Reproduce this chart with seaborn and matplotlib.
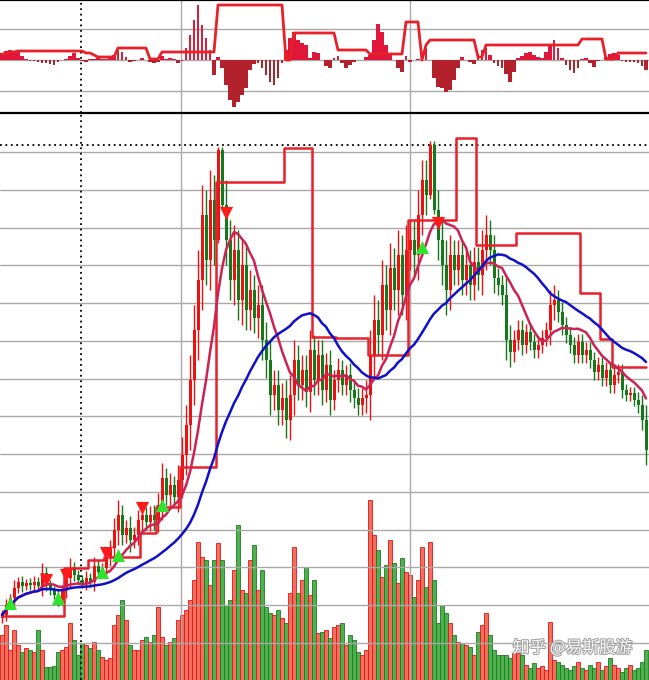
import numpy as np
import pandas as pd
import matplotlib
matplotlib.use('Agg')
import matplotlib.pyplot as plt
import matplotlib.patheffects as pe
import seaborn as sns

# ===== データ（画像から読み取った概算値） =====
first_open = 6.2
closes = [6.5, 7.5, 8.2, 9.2, 9.8, 9.4, 9.7, 9.5, 9.8, 9.4,
          10.7, 9.5, 9.0, 8.5, 8.0, 9.0, 10.2, 11.2, 10.5, 10.0,
          9.7, 10.2, 9.8, 11.4, 10.8, 11.2, 12.2, 13.2, 15.0, 16.5,
          14.5, 15.2, 14.0, 14.5, 16.0, 16.5, 15.8, 16.5, 16.0, 17.5,
          20.2, 18.5, 19.5, 18.3, 20.0, 22.5, 25.5, 30.0, 35.0, 40.0,
          46.5, 42.0, 48.0, 44.0, 53.0, 47.5, 44.0, 40.0, 43.0, 38.0,
          41.5, 37.0, 39.0, 36.2, 37.5, 34.0, 32.0, 28.5, 29.5, 27.0,
          28.2, 26.0, 28.5, 32.0, 29.5, 31.0, 28.8, 33.0, 30.0, 32.5,
          29.0, 31.5, 28.0, 30.0, 31.0, 29.5, 30.5, 29.0, 28.2, 27.5,
          28.2, 28.5, 32.5, 36.0, 34.5, 39.5, 37.0, 41.2, 39.0, 42.5,
          38.5, 43.0, 44.0, 42.5, 46.5, 50.0, 48.5, 53.5, 47.0, 44.0,
          41.5, 39.0, 42.5, 41.0, 42.5, 40.0, 41.5, 39.5, 41.8, 40.5,
          43.0, 44.5, 43.0, 40.2, 39.5, 38.5, 34.0, 32.8, 34.0, 35.0,
          33.5, 34.8, 33.8, 33.0, 33.5, 34.2, 35.0, 37.5, 38.0, 36.8,
          35.5, 34.5, 33.5, 32.5, 33.8, 32.5, 33.0, 32.0, 30.8, 31.5,
          30.2, 31.0, 29.5, 30.5, 30.8, 29.0, 28.5, 28.7, 28.0, 27.5,
          26.0, 23.0]

# 実体からのヒゲの長さ
wicks = [0.5, 0.6, 0.4, 0.8, 0.5, 0.6, 0.4, 0.5, 0.6, 0.5,
         1.0, 0.6, 0.5, 0.4, 0.6, 0.5, 0.8, 1.0, 0.6, 0.5,
         0.5, 0.7, 0.5, 0.9, 0.6, 0.5, 0.7, 0.8, 1.2, 1.5,
         1.0, 0.8, 1.2, 0.8, 1.0, 1.2, 0.8, 0.9, 1.0, 1.2,
         1.5, 1.0, 1.2, 0.9, 1.5, 1.8, 2.0, 2.5, 2.5, 3.0,
         3.0, 2.5, 3.0, 2.5, 0.3, 0.3, 2.5, 2.0, 2.5, 2.0,
         2.5, 2.0, 2.0, 1.5, 2.0, 2.0, 1.8, 2.0, 1.5, 1.5,
         1.5, 1.8, 2.0, 2.0, 1.5, 1.5, 1.5, 2.0, 1.5, 1.5,
         1.5, 1.2, 1.5, 1.0, 1.2, 1.0, 1.0, 1.2, 1.0, 1.0,
         1.0, 1.5, 2.5, 2.5, 2.0, 2.5, 2.0, 2.5, 2.0, 2.5,
         2.0, 2.5, 2.0, 2.0, 2.5, 2.0, 2.0, 0.4, 0.4, 2.0,
         2.0, 2.5, 2.0, 1.5, 1.5, 1.5, 1.5, 1.5, 1.5, 1.5,
         2.0, 2.0, 1.5, 1.5, 1.0, 1.0, 2.0, 1.5, 1.0, 1.0,
         1.0, 0.8, 0.8, 0.8, 0.8, 0.8, 0.8, 1.5, 1.5, 1.0,
         1.0, 0.8, 0.8, 0.8, 0.8, 0.8, 0.8, 0.8, 0.8, 0.8,
         0.8, 0.8, 0.8, 0.8, 0.8, 0.8, 0.6, 0.6, 0.6, 0.8,
         1.0, 1.5]

volumes = [45, 55, 30, 50, 35, 28, 32, 30, 28, 50,
           30, 13, 13, 14, 28, 30, 33, 57, 40, 25,
           37, 35, 32, 38, 30, 23, 20, 22, 55, 65,
           80, 60, 35, 30, 30, 40, 43, 38, 45, 73,
           43, 35, 38, 42, 60, 65, 70, 80, 100, 138,
           123, 120, 95, 120, 137, 120, 75, 80, 110, 155,
           90, 87, 120, 135, 90, 110, 73, 67, 65, 70,
           62, 57, 87, 133, 87, 100, 113, 85, 100, 47,
           48, 50, 42, 53, 55, 57, 35, 45, 40, 28,
           25, 30, 180, 145, 130, 103, 115, 140, 117, 97,
           122, 108, 105, 83, 100, 133, 93, 138, 100, 57,
           75, 67, 57, 45, 38, 37, 35, 33, 25, 48,
           55, 67, 45, 30, 25, 25, 25, 22, 27, 27,
           25, 15, 12, 17, 12, 14, 10, 58, 20, 18,
           15, 12, 10, 14, 18, 12, 10, 15, 12, 18,
           10, 14, 22, 15, 12, 8, 12, 15, 10, 12,
           18, 30]

hist = [7, 9, 10, 9, 8, 4, 1, -1, -1, -2,
        -3, -3, -4, -5, -2, 0, 1, 4, 7, 2,
        -1, -2, 1, 1, 2, 1, 1, 3, 5, 10,
        8, 3, -2, -1, 0, 2, 0, -2, -3, -2,
        4, 1, 2, 1, -3, -1, 12, 25, 40, 55,
        35, 22, 10, -15, 3, -8, -25, -40, -47, -42,
        -35, -28, -10, -4, -3, -8, -15, -22, -25, -18,
        -3, 10, 22, 28, 20, 17, 15, 2, 8, 7,
        0, -6, -8, 2, 4, -3, -8, -5, -2, 0,
        0, 3, 5, 20, 36, 28, 15, 5, 0, -8,
        -12, 4, -2, 0, 1, 8, 12, 0, -18, -27,
        -28, -32, -30, -20, -8, 3, 0, -2, -4, 6,
        10, 12, 5, -3, -6, -8, -14, -22, -12, 2,
        4, 7, 8, 5, 3, 2, 8, 15, 20, 12,
        2, -5, -10, -13, -8, 1, 2, -3, -7, -1,
        0, 3, 6, 7, 5, -1, -2, -2, -2, -3,
        -6, -10]
# 細線で描かれる区間（開始, 終了）
thin_ranges = [(7, 14), (29, 31), (45, 52), (64, 70), (83, 84), (101, 101),
               (105, 106), (119, 121), (123, 125), (138, 139), (141, 144), (155, 160)]

# 上段の階段ライン（開始インデックスと水準）
sig_start = [0, 2, 4, 21, 23, 24, 29, 37, 40, 54, 71, 73, 84, 92, 101, 105, 106, 107, 119, 121, 145, 151, 154]
sig_level = [6, 8, 9, 7, 5, 3, 12, 1, 8, 55, 0, 27, 10, 6, 38, 0, 15, 20, 3, 15, 21, 1, 7]

# 主図の階段ライン
stop_start = [0, 16, 22, 26, 35, 39, 45, 54, 71, 78, 84, 92, 102, 114, 119, 129, 145, 150, 153]
stop_level = [6.4, 11.2, 12.0, 12.3, 14.7, 17.3, 21.3, 49.8, 53.2, 34.3, 34.2, 32.5,
              46.0, 54.2, 43.5, 44.7, 38.7, 34.1, 31.3]

# 売買シグナル
sell_idx = [11, 16, 26, 35, 56, 109]
sell_px = [10.0, 10.5, 12.7, 17.2, 46.7, 45.7]
buy_idx = [2, 14, 25, 29, 40, 105]
buy_px = [7.7, 8.2, 10.8, 12.5, 17.5, 43.3]

# ===== 前処理 =====
n = len(closes)
df = pd.DataFrame({'idx': np.arange(n), 'close': closes, 'volume': volumes,
                   'hist': hist, 'wick': wicks})
df['open'] = [first_open] + closes[:-1]
df['up'] = df['close'] >= df['open']
df['body_lo'] = np.minimum(df['open'], df['close'])
df['body_hi'] = np.maximum(df['open'], df['close'])
df['high'] = df['body_hi'] + df['wick']
df['low'] = df['body_lo'] - df['wick']
df['ma10'] = df['close'].rolling(10, min_periods=1).mean()
df['ma30'] = df['close'].rolling(30, min_periods=1).mean()


def expand(starts, levels):
    out = np.zeros(n)
    for k, s in enumerate(starts):
        e = starts[k + 1] if k + 1 < len(starts) else n
        out[s:e] = levels[k]
    return out


df['stop'] = expand(stop_start, stop_level)
df['sig'] = expand(sig_start, sig_level)
df['thin'] = False
for a, b in thin_ranges:
    df.loc[a:b, 'thin'] = True

RED = '#ee1111'
GREEN = '#16781a'
GRID = '#a9a9a9'

sns.set_theme(style='white')
plt.rcParams['font.family'] = ['Noto Sans CJK SC', 'DejaVu Sans']

fig = plt.figure(figsize=(6.49, 6.80), dpi=100)
ax_top = fig.add_axes([0, 1 - 113 / 680, 1, 113 / 680])
ax = fig.add_axes([0, 0, 1, 566 / 680])
ax_vol = ax.twinx()
ax_vol.set_zorder(ax.get_zorder() - 1)
ax.patch.set_visible(False)

xlim = (-0.5, 161.75)

# ===== 上段：ヒストグラム =====
solid = df[~df['thin']]
thin = df[df['thin']]
ax_top.bar(solid['idx'], solid['hist'], width=1.0,
           color=np.where(solid['hist'] >= 0, '#e0163a', '#b3212c'), linewidth=0, zorder=3)
ax_top.bar(thin['idx'], thin['hist'], width=0.35,
           color=np.where(thin['hist'] >= 0, '#d8203a', '#a8262c'), linewidth=0, zorder=3)
sns.lineplot(data=df, x='idx', y='sig', ax=ax_top, color='#e8202a', lw=2, zorder=4)
for v in (31, 0, -31):
    ax_top.axhline(v, color=GRID, lw=1, zorder=1)
ax_top.axvline(19.75, color='black', ls=(0, (1, 2)), lw=1.3, zorder=2)
ax_top.axvline(44.75, color=GRID, lw=1, zorder=2)
ax_top.axvline(102, color=GRID, lw=1, zorder=2)
ax_top.set_xlim(*xlim)
ax_top.set_ylim(-53, 60)
for s in ('left', 'right'):
    ax_top.spines[s].set_visible(False)
for s in ('top', 'bottom'):
    ax_top.spines[s].set_color('black')
    ax_top.spines[s].set_linewidth(1.6)

# ===== 出来高 =====
ax_vol.bar(df['idx'], df['volume'], width=0.85,
           color=np.where(df['up'], '#f07060', '#4fb04f'),
           edgecolor=np.where(df['up'], '#e81010', '#1e7a1e'), linewidth=0.6)
ax_vol.set_ylim(0, 566)
ax_vol.set_xlim(*xlim)

# ===== 主図 =====
for k in range(14):
    ax.axhline(3.7 + 3.777 * k, color=GRID, lw=1, zorder=1)
ax.axhline(53.5, color='black', ls=(0, (1, 2)), lw=1.3, zorder=1)
ax.axvline(19.75, color='black', ls=(0, (1, 2)), lw=1.3, zorder=1)
ax.axvline(44.75, color=GRID, lw=1, zorder=1)
ax.axvline(102, color=GRID, lw=1, zorder=1)

candle_colors = np.where(df['up'], RED, GREEN)
ax.vlines(df['idx'], df['low'], df['high'], colors=candle_colors, lw=1, zorder=3)
ax.bar(df['idx'], df['body_hi'] - df['body_lo'], bottom=df['body_lo'], width=0.75,
       color=candle_colors, linewidth=0, zorder=3)

ax.step(df['idx'], df['stop'], where='mid', color='#e8202a', lw=1.8, zorder=4)
sns.lineplot(data=df, x='idx', y='ma10', ax=ax, color='#cc2255', lw=1.8, zorder=5)
sns.lineplot(data=df, x='idx', y='ma30', ax=ax, color='#1010c8', lw=1.8, zorder=5)

sns.scatterplot(x=sell_idx, y=sell_px, ax=ax, marker='v', s=90, color='#ff1a1a',
                linewidth=0, zorder=6)
sns.scatterplot(x=buy_idx, y=buy_px, ax=ax, marker='^', s=90, color='#2ee52e',
                linewidth=0, zorder=6)

ax.set_xlim(*xlim)
ax.set_ylim(0, 56.6)

for a in (ax, ax_vol, ax_top):
    a.set_xticks([])
    a.set_yticks([])
    a.set_xlabel('')
    a.set_ylabel('')
for a in (ax, ax_vol):
    for s in a.spines.values():
        s.set_visible(False)

# 透かし
fig.text(0.882, 0.047, '知乎 @易斯股游', ha='center', va='center', fontsize=12,
         color='white', alpha=0.9,
         path_effects=[pe.withStroke(linewidth=1.5, foreground='#9a9a9a')])

fig.savefig('out.png', dpi=100)
